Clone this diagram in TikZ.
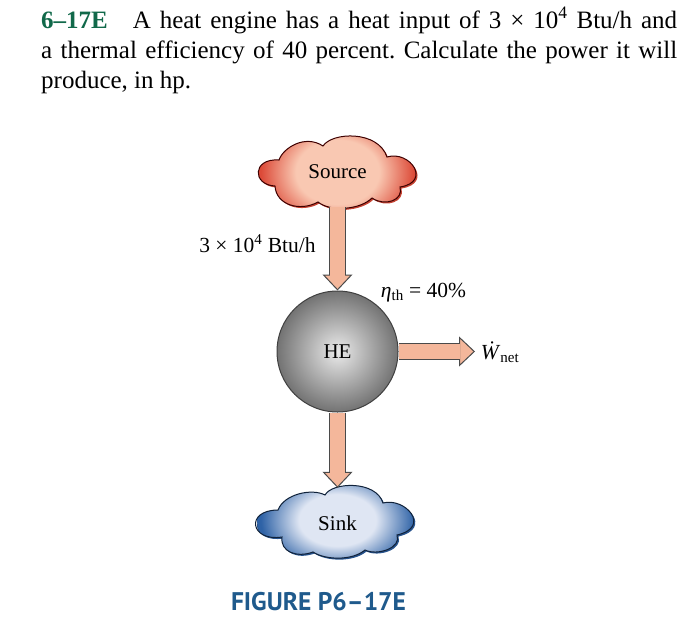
\documentclass[tikz,border=0pt]{standalone}
\usepackage{fontspec}
\setmainfont{Liberation Serif}
\newfontfamily\capfont{PT Sans}
\usetikzlibrary{arrows.meta}
\frenchspacing
\definecolor{arrowfill}{HTML}{F4B79B}
\definecolor{arrowline}{HTML}{4A4A4A}
\definecolor{srcpale}{HTML}{F9C8B2}
\definecolor{srcdeep}{HTML}{DC4A38}
\definecolor{snkpale}{HTML}{DFE6F3}
\definecolor{snkdeep}{HTML}{2E62A6}
\definecolor{probgreen}{HTML}{11694A}
\definecolor{capblue}{HTML}{1F5A8C}
\pgfdeclareradialshading{sourceglow}{\pgfpoint{0bp}{0bp}}{color(0bp)=(srcpale); color(13bp)=(srcpale); color(24bp)=(srcdeep); color(50bp)=(srcdeep)}
\pgfdeclareradialshading{sinkglow}{\pgfpoint{0bp}{0bp}}{color(0bp)=(snkpale); color(12bp)=(snkpale); color(24bp)=(snkdeep); color(50bp)=(snkdeep)}
\tikzset{cloudlabel/.style={minimum width=160pt, minimum height=70pt, inner sep=0pt, font=\fontsize{21}{24}\selectfont},
heatflow/.style={line width=17pt, draw=arrowline,
  -{Triangle[length=16pt,width=30pt,line width=1pt,fill=arrowfill]},
  postaction={draw=arrowfill, line width=15pt, -, shorten >=15pt}},
textline/.style={anchor=base west, inner sep=0pt, font=\fontsize{25}{30}\selectfont},
smalltext/.style={anchor=base, inner sep=0pt, font=\fontsize{21.5}{24}\selectfont}}
\newcommand{\sourceoutline}{(279,160) .. controls (283,148) and (305,134) .. (323,146)
  .. controls (332,132) and (378,130) .. (387,157)
  .. controls (410,150) and (432,182) .. (400,187)
  .. controls (404,200) and (385,207) .. (372,198)
  .. controls (360,210) and (330,212) .. (318,202)
  .. controls (300,212) and (276,205) .. (275,186)
  .. controls (252,185) and (252,158) .. (279,160) -- cycle}
\newcommand{\sinkoutline}{(278,510) .. controls (284,494) and (312,488) .. (325,495)
  .. controls (332,482) and (376,480) .. (383,503)
  .. controls (405,497) and (432,527) .. (397,535)
  .. controls (402,548) and (377,556) .. (365,550)
  .. controls (352,561) and (325,560) .. (313,552)
  .. controls (297,558) and (280,552) .. (282,537)
  .. controls (250,542) and (245,510) .. (278,510) -- cycle}

\begin{document}
\begin{tikzpicture}[x=1pt,y=-1pt]
\useasboundingbox (0,0) rectangle (700,640);

% problem text
\node (line1) [textline] at (41,28) {\makebox[636pt][s]{\textcolor{probgreen}{\textbf{6–17E}}\hspace{16pt} A heat engine has a heat input of 3 × 10\textsuperscript{4} Btu/h and}};
\node (line2) [textline] at (41,58) {\makebox[636pt][s]{a thermal efficiency of 40 percent. Calculate the power it will}};
\node (line3) [textline] at (41,88) {produce, in hp.};

% clouds
\fill [srcdeep!90!black,xshift=1.5pt,yshift=-1.5pt] \sourceoutline;
\begin{scope}
\clip \sourceoutline;
\shade [shading=sourceglow] (337.5,172) ellipse (80 and 62);
\end{scope}
\draw [black!70!red!80!black,line width=1pt] \sourceoutline;

\fill [snkdeep!85!black,xshift=1.5pt,yshift=-1.5pt] \sinkoutline;
\begin{scope}
\clip \sinkoutline;
\shade [shading=sinkglow] (337.5,520) ellipse (80 and 54);
\end{scope}
\draw [snkdeep!35!black,line width=1pt] \sinkoutline;

\node (source) [cloudlabel] at (337.5,172) {Source};
\node (sink) [cloudlabel] at (337.5,523) {Sink};
\node (engine) [circle, draw=black!75, line width=1pt, minimum size=121pt, inner sep=0pt,
  inner color=black!8, outer color=black!55, font=\fontsize{21}{24}\selectfont] at (337.5,351.5) {HE\hspace{6pt}};
\coordinate (work) at (475,351.5);

% heat and work arrows
\draw [heatflow] (source.south) -- (engine.north);
\draw [heatflow] (engine.east) -- (work);
\draw [heatflow] (engine.south) -- (sink.north);

% labels
\node (heatin) [smalltext] at (257.5,252) {3 × 10\textsuperscript{4} Btu/h};
\node (eff) [smalltext] at (423.5,297) {\textit{η}\textsubscript{th} = 40\%};
\node (wnet) [smalltext] at (500,359) {\textit{\.W}\textsubscript{net}};
\node (caption) [anchor=base, inner sep=0pt, text=capblue, font=\capfont\bfseries\fontsize{25.5}{30}\selectfont] at (318.5,610) {FIGURE P6–17E};
\end{tikzpicture}
\end{document}
